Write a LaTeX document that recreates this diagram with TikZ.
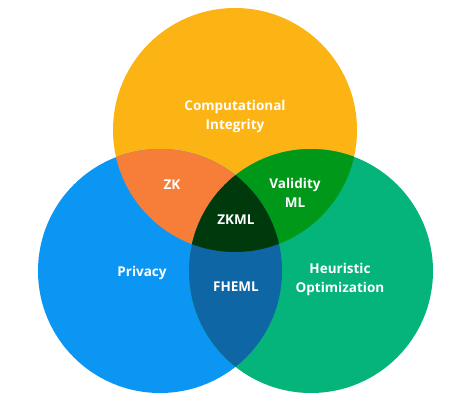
\documentclass[tikz,border=0pt]{standalone}
\usepackage{fontspec}
\setmainfont{Open Sans}
\usepackage{tikz}

\definecolor{ciyellow}{RGB}{252,180,21}
\definecolor{prblue}{RGB}{12,150,244}
\definecolor{hogreen}{RGB}{4,180,122}
\definecolor{zkorange}{RGB}{246,126,56}
\definecolor{vmlgreen}{RGB}{0,152,24}
\definecolor{fheblue}{RGB}{14,102,164}
\definecolor{zkmldark}{RGB}{0,58,12}

\newcommand{\cipath}{(235,130) circle[radius=122]}
\newcommand{\prpath}{(160,271) circle[radius=122]}
\newcommand{\hopath}{(311,271) circle[radius=122]}

\begin{document}
\begin{tikzpicture}[
    x=1pt, y=-1pt,
    lbl/.style={text=white, font=\bfseries\fontsize{13.5}{19}\selectfont, align=center, inner sep=0pt}
]
\useasboundingbox (0,0) rectangle (474,420);

% the three sets
\fill[ciyellow] \cipath;
\fill[prblue] \prpath;
\fill[hogreen] \hopath;

% pairwise overlaps
\begin{scope}
  \clip \cipath;
  \fill[zkorange] \prpath;
\end{scope}
\begin{scope}
  \clip \cipath;
  \fill[vmlgreen] \hopath;
\end{scope}
\begin{scope}
  \clip \prpath;
  \fill[fheblue] \hopath;
\end{scope}

% all three
\begin{scope}
  \clip \cipath;
  \clip \prpath;
  \fill[zkmldark] \hopath;
\end{scope}

\node[lbl] (ci) at (235,116) {Computational\\Integrity};
\node[lbl] (pr) at (142,273) {Privacy};
\node[lbl] (ho) at (340,279) {Heuristic\\Optimization};
\node[lbl] (zk) at (172,185) {ZK};
\node[lbl] (vml) at (295,193) {Validity\\ML};
\node[lbl] (fhe) at (236,287) {FHEML};
\node[lbl] (zkml) at (236,220) {ZKML};

\end{tikzpicture}
\end{document}
